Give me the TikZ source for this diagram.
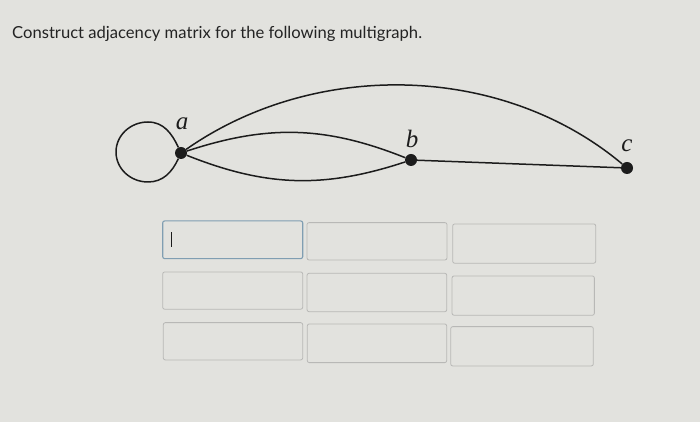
\documentclass[tikz,border=0pt]{standalone}
\usepackage{fontspec}
\newfontfamily\uifont{Lato}
\newfontfamily\labelfont{Liberation Serif}
\usepackage{tikz}
\usetikzlibrary{positioning}
\definecolor{screen}{RGB}{226,226,222}
\definecolor{ink}{RGB}{28,28,28}
\definecolor{boxline}{RGB}{184,184,182}
\definecolor{focusline}{RGB}{128,158,178}
\definecolor{titletext}{RGB}{35,35,35}

\begin{document}
\begin{tikzpicture}[x=1pt, y=1pt,
        vertex/.style={circle, fill=ink, inner sep=0pt, minimum size=12pt},
        edge/.style={draw=ink, line width=1.5pt},
        vlabel/.style={font=\labelfont\itshape\fontsize{25}{29}\selectfont, text=ink, inner sep=0pt},
        cell/.style={draw=boxline, line width=0.8pt, rounded corners=2pt, inner sep=0pt},
        focus/.style={cell, draw=focusline, line width=1.1pt}]
        % Screen
        \fill [screen] (0, 0) rectangle (700, 422);
        \useasboundingbox (0, 0) rectangle (700, 422);
        % Question
        \node (title) [anchor=west, text=titletext, font=\uifont\fontsize{16.6}{19}\selectfont, inner sep=0pt] at (12, 388) {Construct adjacency matrix for the following multigraph.};
        % Vertices
        \node (a) at (181, 269) [vertex] {};
        \node (b) at (411, 262) [vertex] {};
        \node (c) at (627, 254) [vertex] {};
        \node (la) at (182, 298) [vlabel] {a};
        \node (lb) at (412, 283) [vlabel] {b};
        \node (lc) at (627, 276) [vlabel] {c};
        % Loop at a
        \coordinate (looptop) at (148, 300);
        \draw [edge] (a) to [out=115, in=0] (looptop)
            arc [start angle=90, end angle=270, x radius=32, y radius=30]
            to [out=0, in=245] (a);
        % a -- b (twice)
        \draw [edge] (a) to [bend left=20] (b);
        \draw [edge] (a) to [bend right=20] (b);
        % a -- c
        \draw [edge] (a) to [out=35, in=140, looseness=0.92] (c);
        % b -- c
        \draw [edge] (b) -- (c);
        % Row 1
        \node (m11) at (232.7, 182.2) [focus, minimum width=140pt, minimum height=37.7pt] {};
        \node (m12) at (377.0, 180.7) [cell, minimum width=140pt, minimum height=37.3pt] {};
        \node (m13) at (524.2, 178.4) [cell, minimum width=143pt, minimum height=39.3pt] {};
        % Row 2
        \node (m21) at (232.7, 131.4) [cell, minimum width=140pt, minimum height=37.3pt] {};
        \node (m22) at (376.9, 129.5) [cell, minimum width=139.7pt, minimum height=38.4pt] {};
        \node (m23) at (523.2, 126.4) [cell, minimum width=142.3pt, minimum height=39.3pt] {};
        % Row 3
        \node (m31) at (233.0, 80.7) [cell, minimum width=139.4pt, minimum height=37.3pt] {};
        \node (m32) at (377.0, 78.7) [cell, minimum width=139.4pt, minimum height=38.7pt] {};
        \node (m33) at (522.0, 75.7) [cell, minimum width=142.6pt, minimum height=39.3pt] {};
        % Cursor
        \draw [ink, line width=1.2pt] (171.7, 175) -- (171.7, 190);
    \end{tikzpicture}
\end{document}
